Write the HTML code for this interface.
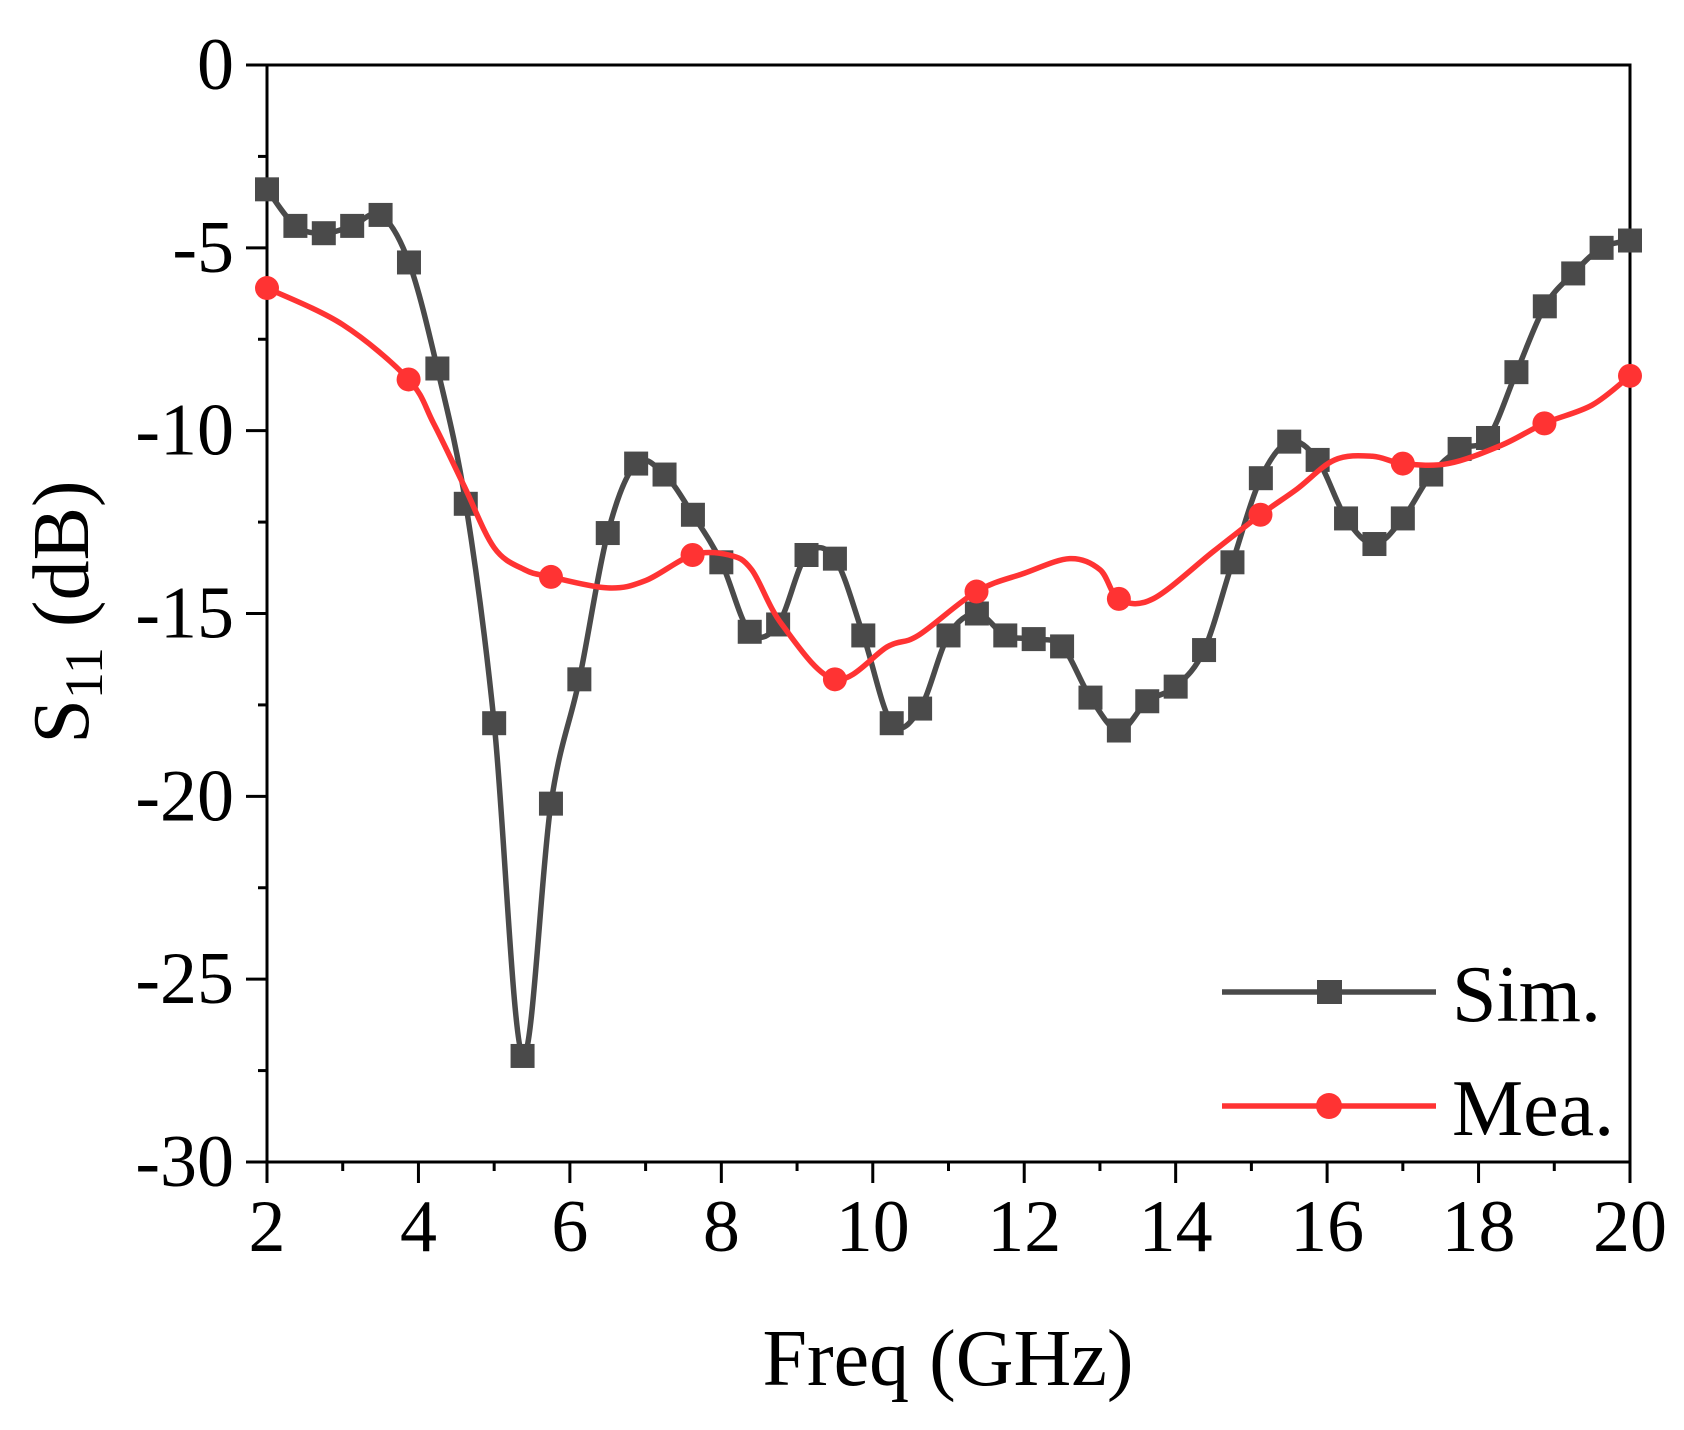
<!DOCTYPE html>
<html><head><meta charset="utf-8"><style>
html,body{margin:0;padding:0;background:#fff;}
svg{display:block;}
text{font-family:"Liberation Serif",serif;fill:#000;}
</style></head><body>
<svg id="s" width="1684" height="1430" xmlns="http://www.w3.org/2000/svg"></svg>
<script>
const L=267,R=1630,T=65,B=1162;
const X=v=>L+(v-2)/18*(R-L), Y=v=>T+(-v)/30*(B-T);
let h='';
h+=`<rect x="${L}" y="${T}" width="${R-L}" height="${B-T}" fill="none" stroke="#000" stroke-width="3"/>`;
for(let v=2;v<=20;v+=1){const x=X(v),maj=v%2==0;h+=`<line x1="${x}" y1="${B}" x2="${x}" y2="${B+(maj?21:9)}" stroke="#000" stroke-width="3"/>`;
 if(maj)h+=`<text x="${x}" y="1251" font-size="74" text-anchor="middle">${v}</text>`;}
for(let v=0;v>=-30;v-=2.5){const y=Y(v),maj=v%5==0;h+=`<line x1="${L}" y1="${y}" x2="${L-(maj?21:9)}" y2="${y}" stroke="#000" stroke-width="3"/>`;
 if(maj)h+=`<text x="234" y="${y+24}" font-size="74" text-anchor="end">${v}</text>`;}
h+=`<text x="948" y="1385" font-size="80" text-anchor="middle">Freq (GHz)</text>`;
h+=`<text transform="translate(88,612) rotate(-90)" font-size="80" text-anchor="middle">S<tspan font-size="54" dy="14">11</tspan><tspan dy="-14"> (dB)</tspan></text>`;
function path(pts){let d=`M${X(pts[0][0])},${Y(pts[0][1])}`;
 for(let i=0;i<pts.length-1;i++){const p0=pts[Math.max(i-1,0)],p1=pts[i],p2=pts[i+1],p3=pts[Math.min(i+2,pts.length-1)];
  const a=[X(p0[0]),Y(p0[1])],b=[X(p1[0]),Y(p1[1])],c=[X(p2[0]),Y(p2[1])],e=[X(p3[0]),Y(p3[1])];
  d+=`C${b[0]+(c[0]-a[0])/6},${b[1]+(c[1]-a[1])/6} ${c[0]-(e[0]-b[0])/6},${c[1]-(e[1]-b[1])/6} ${c[0]},${c[1]}`;}
 return d;}
const sv=[-3.4,-4.4,-4.6,-4.4,-4.1,-5.4,-8.3,-12.0,-18.0,-27.1,-20.2,-16.8,-12.8,-10.9,-11.2,-12.3,-13.6,-15.5,-15.3,-13.4,-13.5,-15.6,-18.0,-17.6,-15.6,-15.0,-15.6,-15.7,-15.9,-17.3,-18.2,-17.4,-17.0,-16.0,-13.6,-11.3,-10.3,-10.8,-12.4,-13.1,-12.4,-11.2,-10.5,-10.2,-8.4,-6.6,-5.7,-5.0,-4.8];
const sp=sv.map((v,i)=>[2+i*0.375,v]);
const mp=[[2,-6.1],[3,-7.1],[3.87,-8.6],[4.2,-9.8],[4.6,-11.5],[5.0,-13.2],[5.4,-13.8],[5.75,-14.0],[6.5,-14.3],[7.0,-14.1],[7.62,-13.4],[8.1,-13.4],[8.4,-13.8],[8.8,-15.3],[9.5,-16.8],[10.2,-15.9],[10.6,-15.6],[11.37,-14.4],[12.0,-13.9],[12.6,-13.5],[13.0,-13.8],[13.25,-14.6],[13.7,-14.6],[14.5,-13.3],[15.12,-12.3],[15.6,-11.6],[16.1,-10.8],[16.6,-10.7],[17.0,-10.9],[17.6,-10.9],[18.3,-10.4],[18.87,-9.8],[19.5,-9.3],[20,-8.5]];
const mm=[[2,-6.1],[3.87,-8.6],[5.75,-14.0],[7.62,-13.4],[9.5,-16.8],[11.37,-14.4],[13.25,-14.6],[15.12,-12.3],[17.0,-10.9],[18.87,-9.8],[20,-8.5]];
h+=`<path d="${path(sp)}" fill="none" stroke="#4a4a4a" stroke-width="5.5"/>`;
sp.forEach(p=>h+=`<rect x="${X(p[0])-12}" y="${Y(p[1])-12}" width="24" height="24" fill="#4a4a4a"/>`);
h+=`<path d="${path(mp)}" fill="none" stroke="#ff3333" stroke-width="5.5"/>`;
mm.forEach(p=>h+=`<circle cx="${X(p[0])}" cy="${Y(p[1])}" r="12" fill="#ff3333"/>`);
h+=`<line x1="1222" y1="992" x2="1436" y2="992" stroke="#4a4a4a" stroke-width="5.5"/><rect x="1317" y="980" width="25" height="24" fill="#4a4a4a"/>`;
h+=`<text x="1452" y="1021" font-size="80">Sim.</text>`;
h+=`<line x1="1222" y1="1106" x2="1436" y2="1106" stroke="#ff3333" stroke-width="5.5"/><circle cx="1329" cy="1106" r="13" fill="#ff3333"/>`;
h+=`<text x="1452" y="1135" font-size="80">Mea.</text>`;
document.getElementById('s').innerHTML=h;
</script>
</body></html>
